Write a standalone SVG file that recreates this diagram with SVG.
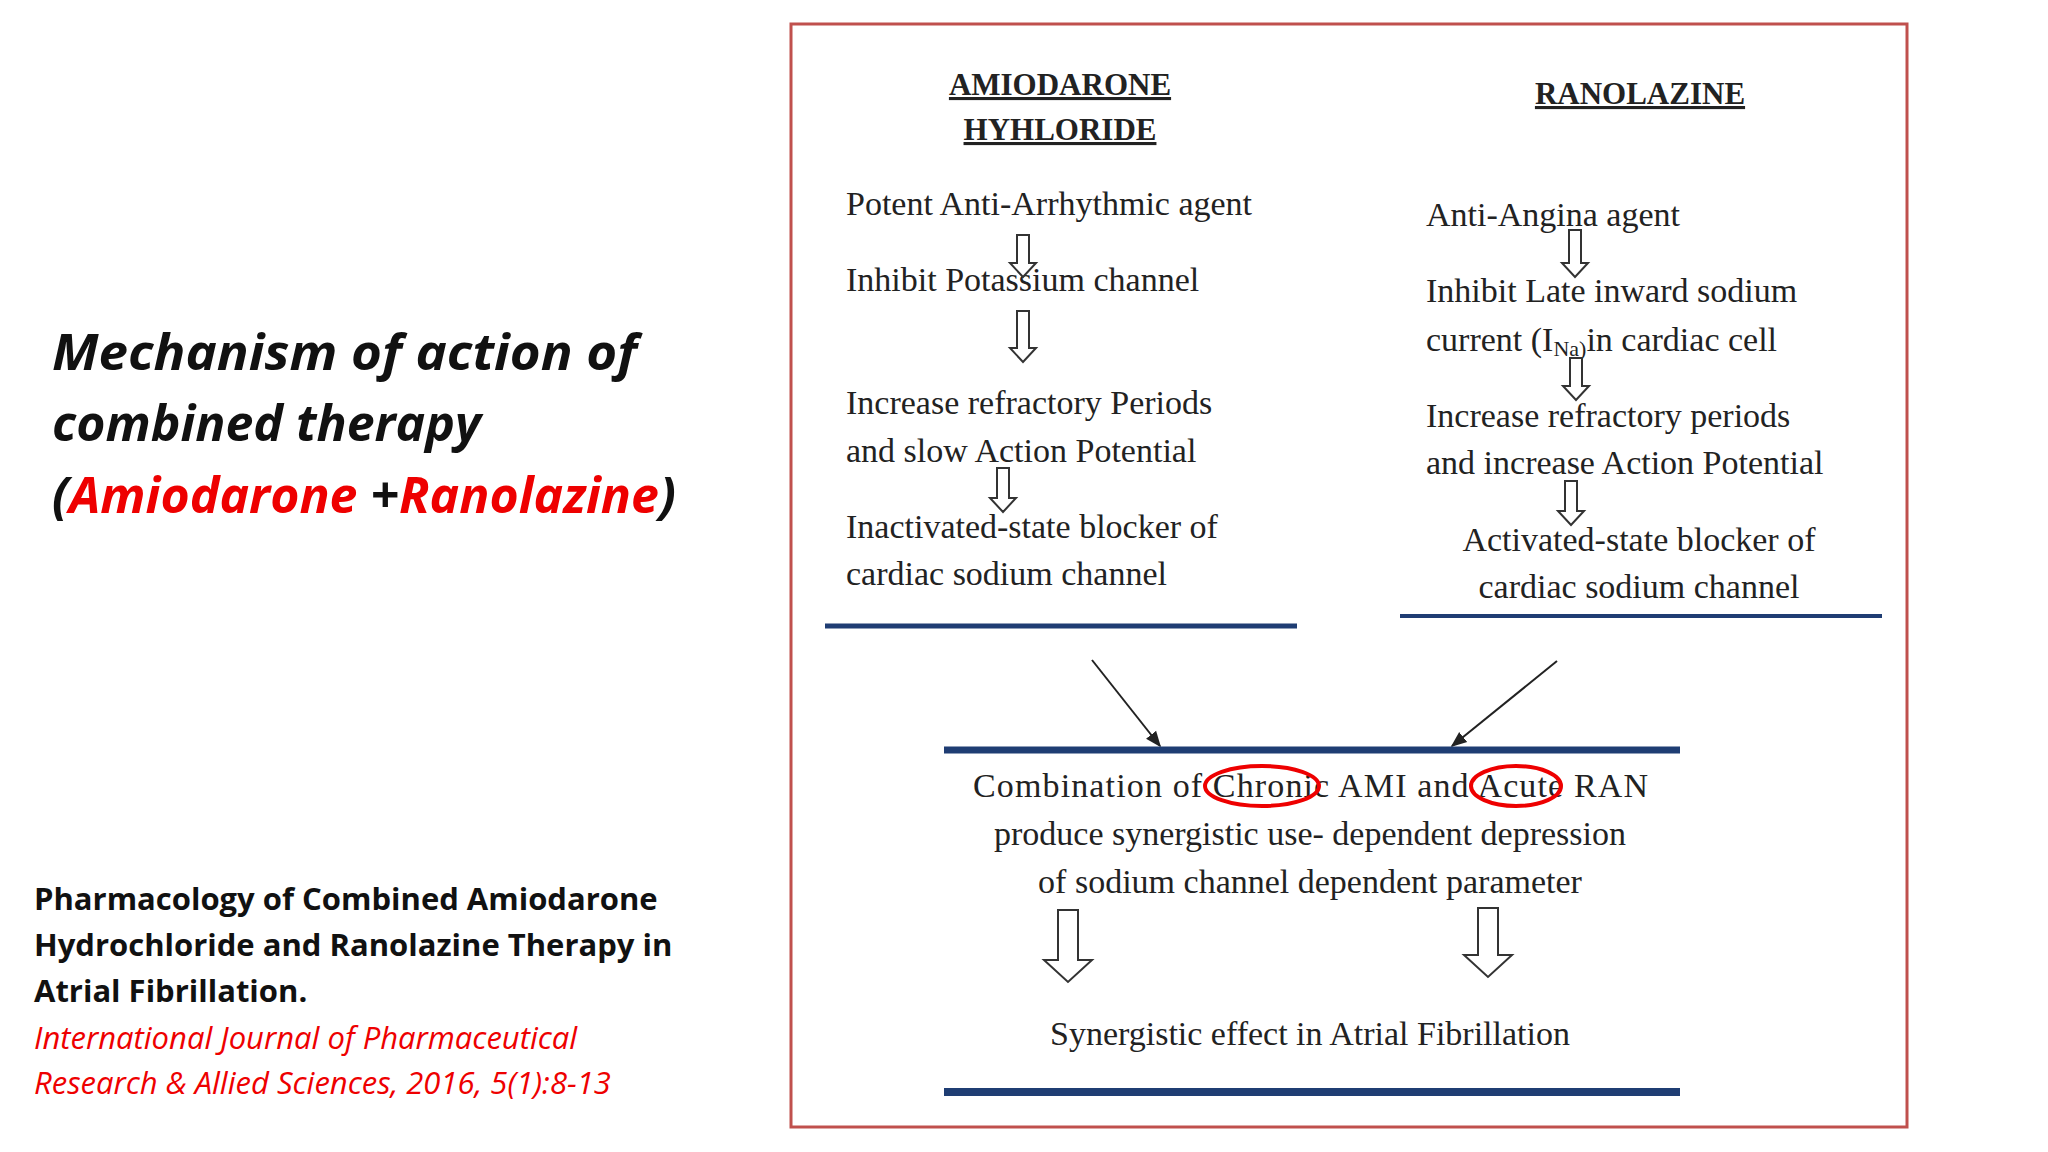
<svg xmlns="http://www.w3.org/2000/svg" width="2048" height="1152" viewBox="0 0 2048 1152">
<style>
.t{font-family:"Liberation Serif","Times New Roman",serif;font-size:34px;fill:#222}
.h{font-family:"Liberation Serif",serif;font-size:31px;font-weight:bold;fill:#222;text-decoration:underline}
.ar{fill:#fff;stroke:#333;stroke-width:2}
.bl{stroke:#1f3d73;fill:none}
.ttl{font-family:"Open Sans","Noto Sans",sans-serif;font-weight:bold;font-style:italic;font-size:50px;fill:#111}
.cit{font-family:"Open Sans","Noto Sans",sans-serif;font-size:31px}
</style>
<defs><marker id="m" viewBox="0 0 10 10" refX="9" refY="5" markerWidth="8" markerHeight="8" orient="auto"><path d="M0,1 L10,5 L0,9 z" fill="#222"/></marker></defs>
<rect width="2048" height="1152" fill="#fff"/>
<g id="title">
<text class="ttl" x="52" y="370" textLength="585" lengthAdjust="spacingAndGlyphs">Mechanism of action of</text>
<text class="ttl" x="52" y="441">combined therapy</text>
<text class="ttl" x="52" y="513">(<tspan fill="#e00">Amiodarone</tspan> +<tspan fill="#e00">Ranolazine</tspan>)</text>
</g>
<g id="citation">
<text class="cit" x="34" y="910" font-weight="bold" fill="#111">Pharmacology of Combined Amiodarone</text>
<text class="cit" x="34" y="956" font-weight="bold" fill="#111">Hydrochloride and Ranolazine Therapy in</text>
<text class="cit" x="34" y="1002" font-weight="bold" fill="#111">Atrial Fibrillation.</text>
<text class="cit" x="34" y="1049" font-style="italic" fill="#e00">International Journal of Pharmaceutical</text>
<text class="cit" x="34" y="1094" font-style="italic" fill="#e00">Research &amp; Allied Sciences, 2016, 5(1):8-13</text>
</g>
<rect id="frame" x="791" y="24" width="1116" height="1103" fill="none" stroke="#c0504d" stroke-width="3"/>
<g id="amio">
<text class="h" x="1060" y="95" text-anchor="middle">AMIODARONE</text>
<text class="h" x="1060" y="140" text-anchor="middle">HYHLORIDE</text>
<text class="t" x="846" y="215">Potent Anti-Arrhythmic agent</text>
<text class="t" x="846" y="291">Inhibit Potassium channel</text>
<text class="t" x="846" y="414">Increase refractory Periods</text>
<text class="t" x="846" y="462">and slow Action Potential</text>
<text class="t" x="846" y="538">Inactivated-state blocker of</text>
<text class="t" x="846" y="585">cardiac sodium channel</text>
<path class="ar" d="M1017,235 h12 v28 h7 l-13,14 l-13,-14 h7 z"/>
<path class="ar" d="M1017,311 h12 v37 h7 l-13,14 l-13,-14 h7 z"/>
<path class="ar" d="M997,468 h12 v30 h7 l-13,14 l-13,-14 h7 z"/>
<line class="bl" x1="825" y1="626" x2="1297" y2="626" stroke-width="5"/>
</g>
<g id="rano">
<text class="h" x="1640" y="104" text-anchor="middle">RANOLAZINE</text>
<text class="t" x="1426" y="226">Anti-Angina agent</text>
<text class="t" x="1426" y="302">Inhibit Late inward sodium</text>
<text class="t" x="1426" y="351">current (I<tspan font-size="22" dy="5">Na)</tspan><tspan dy="-5">in cardiac cell</tspan></text>
<text class="t" x="1426" y="427">Increase refractory periods</text>
<text class="t" x="1426" y="474">and increase Action Potential</text>
<text class="t" x="1639" y="551" text-anchor="middle">Activated-state blocker of</text>
<text class="t" x="1639" y="598" text-anchor="middle">cardiac sodium channel</text>
<path class="ar" d="M1569,230 h12 v33 h7 l-13,14 l-13,-14 h7 z"/>
<path class="ar" d="M1570,358 h12 v28 h7 l-13,14 l-13,-14 h7 z"/>
<path class="ar" d="M1565,481 h12 v30 h7 l-13,14 l-13,-14 h7 z"/>
<line class="bl" x1="1400" y1="616" x2="1882" y2="616" stroke-width="4"/>
</g>
<g id="connectors">
<line x1="1092" y1="660" x2="1160" y2="746" stroke="#222" stroke-width="2" marker-end="url(#m)"/>
<line x1="1557" y1="661" x2="1452" y2="746" stroke="#222" stroke-width="2" marker-end="url(#m)"/>
</g>
<g id="combo">
<line class="bl" x1="944" y1="750" x2="1680" y2="750" stroke-width="7"/>
<text class="t" x="973" y="797" textLength="675" lengthAdjust="spacing">Combination of Chronic AMI and Acute RAN</text>
<text class="t" x="1310" y="845" text-anchor="middle">produce synergistic use- dependent depression</text>
<text class="t" x="1310" y="893" text-anchor="middle">of sodium channel dependent parameter</text>
<ellipse cx="1262" cy="786" rx="57" ry="20" fill="none" stroke="#e00" stroke-width="4"/>
<ellipse cx="1516" cy="786" rx="45" ry="20" fill="none" stroke="#e00" stroke-width="4"/>
<path class="ar" d="M1058,910 h20 v50 h14 l-24,22 l-24,-22 h14 z"/>
<path class="ar" d="M1478,908 h20 v47 h14 l-24,22 l-24,-22 h14 z"/>
</g>
<g id="result">
<text class="t" x="1310" y="1045" text-anchor="middle">Synergistic effect in Atrial Fibrillation</text>
<line class="bl" x1="944" y1="1092" x2="1680" y2="1092" stroke-width="8"/>
</g>
</svg>
